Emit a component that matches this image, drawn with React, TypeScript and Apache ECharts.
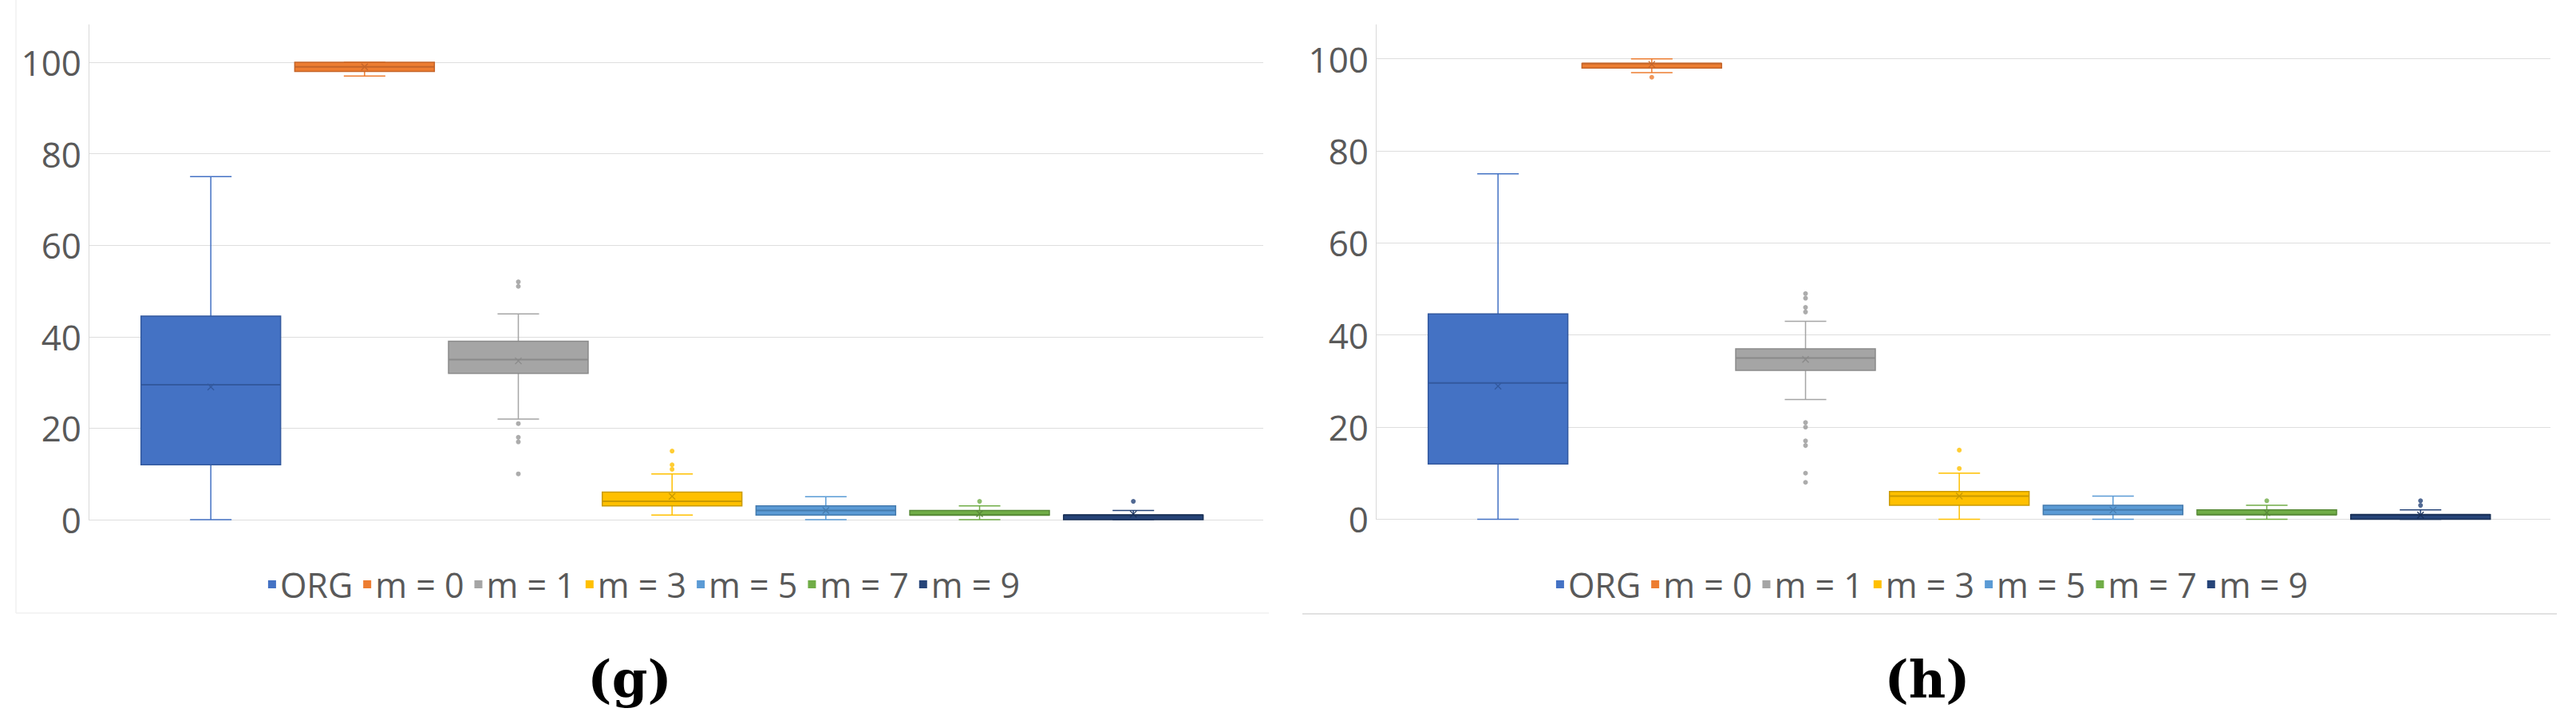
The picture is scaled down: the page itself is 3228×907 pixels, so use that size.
import React, { useEffect, useRef } from 'react';
import * as echarts from 'echarts';

// ---- data ----
const seriesNames = ['ORG', 'm = 0', 'm = 1', 'm = 3', 'm = 5', 'm = 7', 'm = 9'];
const seriesColors = ['#4472C4', '#ED7D31', '#A5A5A5', '#FFC000', '#5B9BD5', '#70AD47', '#264478'];
const seriesDark = ['#33599E', '#C4652A', '#8A8A8A', '#C99A00', '#457BAE', '#578A37', '#1A3157'];
const yTickStep = 20;

// each row: [min, Q1, median, Q3, max, mean]
const statsG = [
  [0, 12, 29.5, 44.5, 75, 29],
  [97, 98, 99, 100, 100, 99],
  [22, 32, 35, 39, 45, 34.7],
  [1, 3, 4, 6, 10, 5.1],
  [0, 1, 2, 3, 5, 2],
  [0, 1, 1, 2, 3, 1.3],
  [0, 0, 1, 1, 2, 1.2],
];
const outliersG = [[], [], [52, 51, 21, 18, 17, 10], [15, 12, 11], [], [4], [4]];

const statsH = [
  [0, 12, 29.6, 44.6, 75, 28.9],
  [97, 98, 99, 99, 100, 98.8],
  [26, 32.3, 35, 37, 43, 34.7],
  [0, 3, 5, 6, 10, 5],
  [0, 1, 2, 3, 5, 2],
  [0, 1, 1, 2, 3, 1.4],
  [0, 0, 1, 1, 2, 0.9],
];
const outliersH = [[], [96], [49, 48, 46, 45, 21, 20, 17, 16, 10, 8], [15, 11], [], [4], [4, 3]];

// ---- layout constants ----
const X_MIN = -0.795;
const X_MAX = 6.845;
const BOX_W = 0.908;
const CAP_W = 0.27;
const FONT = '"Open Sans", "Noto Sans", sans-serif';

function buildOption(
  stats: number[][],
  outliers: number[][],
  yMax: number,
  grid: { left: number; top: number; width: number; height: number },
  label: string,
  labelX: number,
  decorations: any[]
) {
  const boxSeries = stats.map((s, i) => ({
    type: 'custom',
    name: seriesNames[i],
    color: seriesColors[i],
    itemStyle: { color: seriesColors[i] },
    xAxisIndex: 0,
    yAxisIndex: 0,
    silent: true,
    data: [[i, ...s]],
    encode: { x: 0, y: [1, 2, 3, 4, 5] },
    renderItem: (params: any, api: any) => {
      const xv = api.value(0);
      const vMin = api.value(1);
      const q1 = api.value(2);
      const med = api.value(3);
      const q3 = api.value(4);
      const vMax = api.value(5);
      const mean = api.value(6);
      const cx = api.coord([xv, 0])[0];
      const py = (v: number) => api.coord([xv, v])[1];
      const half = api.size([BOX_W, 0])[0] / 2;
      const cap = api.size([CAP_W, 0])[0] / 2;
      const c = seriesColors[i];
      const d = seriesDark[i];
      const wStyle = { stroke: c, lineWidth: 1.5, fill: null };
      const yMean = py(mean);
      const m = 4;
      return {
        type: 'group',
        children: [
          { type: 'line', shape: { x1: cx, y1: py(q3), x2: cx, y2: py(vMax) }, style: wStyle },
          { type: 'line', shape: { x1: cx - cap, y1: py(vMax), x2: cx + cap, y2: py(vMax) }, style: wStyle },
          { type: 'line', shape: { x1: cx, y1: py(q1), x2: cx, y2: py(vMin) }, style: wStyle },
          { type: 'line', shape: { x1: cx - cap, y1: py(vMin), x2: cx + cap, y2: py(vMin) }, style: wStyle },
          {
            type: 'rect',
            shape: { x: cx - half, y: py(q3), width: half * 2, height: Math.max(py(q1) - py(q3), 1) },
            style: { fill: c, stroke: d, lineWidth: 1.5 },
          },
          { type: 'line', shape: { x1: cx - half, y1: py(med), x2: cx + half, y2: py(med) }, style: { stroke: d, lineWidth: 2 } },
          { type: 'line', shape: { x1: cx - m, y1: yMean - m, x2: cx + m, y2: yMean + m }, style: { stroke: d, lineWidth: 1.3 } },
          { type: 'line', shape: { x1: cx - m, y1: yMean + m, x2: cx + m, y2: yMean - m }, style: { stroke: d, lineWidth: 1.3 } },
        ],
      };
    },
  }));

  const outlierSeries = outliers
    .map((vals, i) => ({ vals, i }))
    .filter((o) => o.vals.length > 0)
    .map(({ vals, i }) => ({
      type: 'scatter',
      name: seriesNames[i],
      xAxisIndex: 0,
      yAxisIndex: 0,
      symbol: 'circle',
      symbolSize: 6,
      silent: true,
      itemStyle: { color: seriesColors[i] === '#A5A5A5' ? '#979797' : seriesColors[i] },
      data: vals.map((v) => [i, v]),
    }));

  return {
    animation: false,
    grid: { left: grid.left, top: grid.top, width: grid.width, height: grid.height, containLabel: false },
    xAxis: { type: 'value', min: X_MIN, max: X_MAX, show: false },
    yAxis: {
      type: 'value',
      min: 0,
      max: yMax,
      interval: yTickStep,
      axisLine: { show: true, onZero: false, lineStyle: { color: '#d9d9d9', width: 1 } },
      axisTick: { show: false },
      axisLabel: { fontFamily: FONT, fontSize: 44, color: '#595959', margin: 9, showMaxLabel: false },
      splitLine: { show: true, showMaxLine: false, lineStyle: { color: '#dedede', width: 1.2 } },
    },
    legend: {
      data: seriesNames,
      left: 'center',
      top: 702,
      icon: 'rect',
      itemWidth: 10,
      itemHeight: 10,
      itemGap: 13,
      selectedMode: false,
      textStyle: { fontFamily: FONT, fontSize: 43, color: '#595959', lineHeight: 50 },
    },
    graphic: [
      ...decorations,
      {
        type: 'text',
        x: labelX,
        y: 850,
        style: {
          text: label,
          font: 'bold 64px "DejaVu Serif", "Liberation Serif", serif',
          fill: '#000',
          textAlign: 'center',
          textVerticalAlign: 'middle',
        },
      },
    ],
    series: [...boxSeries, ...outlierSeries],
  };
}

function Panel(props: { option: any; left: number }) {
  const ref = useRef<HTMLDivElement>(null);
  useEffect(() => {
    if (!ref.current) return;
    const chart = echarts.init(ref.current, undefined, { renderer: 'svg' });
    chart.setOption(props.option);
    return () => chart.dispose();
  }, []);
  return (
    <div
      ref={ref}
      style={{ position: 'absolute', left: props.left, top: 0, width: 1614, height: 907 }}
    />
  );
}

export default function App() {
  useEffect(() => {
    document.body.style.margin = '0';
    document.body.style.background = '#ffffff';
  }, []);

  const optionG = buildOption(
    statsG,
    outliersG,
    108.2,
    { left: 111, top: 31, width: 1472, height: 620 },
    '(g)',
    789,
    [
      { type: 'line', shape: { x1: 20, y1: 0, x2: 20, y2: 768 }, style: { stroke: '#f0f0f0', lineWidth: 1.5 } },
      { type: 'line', shape: { x1: 20, y1: 768, x2: 1590, y2: 768 }, style: { stroke: '#f0f0f0', lineWidth: 1.5 } },
    ]
  );
  const optionH = buildOption(
    statsH,
    outliersH,
    107.4,
    { left: 110, top: 31, width: 1472, height: 619.4 },
    '(h)',
    801,
    [
      { type: 'line', shape: { x1: 18, y1: 769, x2: 1590, y2: 769 }, style: { stroke: '#d9d9d9', lineWidth: 1.5 } },
    ]
  );

  return (
    <div style={{ position: 'relative', width: 3228, height: 907, background: '#fff' }}>
      <Panel option={optionG} left={0} />
      <Panel option={optionH} left={1614} />
    </div>
  );
}
